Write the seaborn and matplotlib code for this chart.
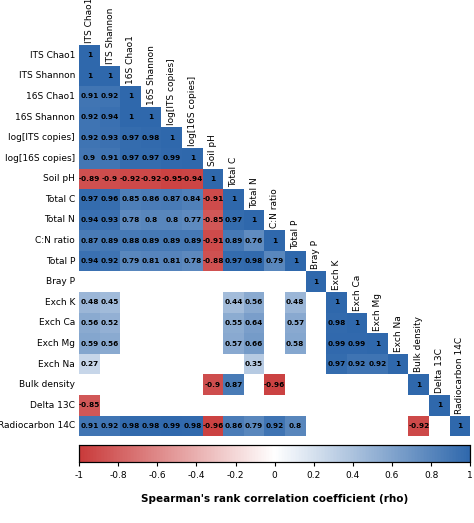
import numpy as np
import pandas as pd
import seaborn as sns
import matplotlib.pyplot as plt
from matplotlib.colors import LinearSegmentedColormap

variables = ["ITS Chao1", "ITS Shannon", "16S Chao1", "16S Shannon", "log[ITS copies]",
             "log[16S copies]", "Soil pH", "Total C", "Total N", "C:N ratio", "Total P",
             "Bray P", "Exch K", "Exch Ca", "Exch Mg", "Exch Na", "Bulk density",
             "Delta 13C", "Radiocarbon 14C"]

# lower-triangle rows (columns 0..i), None = not significant
rows = [
    [1],
    [1, 1],
    [0.91, 0.92, 1],
    [0.92, 0.94, 1, 1],
    [0.92, 0.93, 0.97, 0.98, 1],
    [0.9, 0.91, 0.97, 0.97, 0.99, 1],
    [-0.89, -0.9, -0.92, -0.92, -0.95, -0.94, 1],
    [0.97, 0.96, 0.85, 0.86, 0.87, 0.84, -0.91, 1],
    [0.94, 0.93, 0.78, 0.8, 0.8, 0.77, -0.85, 0.97, 1],
    [0.87, 0.89, 0.88, 0.89, 0.89, 0.89, -0.91, 0.89, 0.76, 1],
    [0.94, 0.92, 0.79, 0.81, 0.81, 0.78, -0.88, 0.97, 0.98, 0.79, 1],
    [None] * 11 + [1],
    [0.48, 0.45, None, None, None, None, None, 0.44, 0.56, None, 0.48, None, 1],
    [0.56, 0.52, None, None, None, None, None, 0.55, 0.64, None, 0.57, None, 0.98, 1],
    [0.59, 0.56, None, None, None, None, None, 0.57, 0.66, None, 0.58, None, 0.99, 0.99, 1],
    [0.27, None, None, None, None, None, None, None, 0.35, None, None, None, 0.97, 0.92, 0.92, 1],
    [None] * 6 + [-0.9, 0.87, None, -0.96] + [None] * 6 + [1],
    [-0.85] + [None] * 16 + [1],
    [0.91, 0.92, 0.98, 0.98, 0.99, 0.98, -0.96, 0.86, 0.79, 0.92, 0.8] + [None] * 5 + [-0.92, None, 1],
]

n = len(variables)
mat = np.full((n, n), np.nan)
for i, r in enumerate(rows):
    for j, v in enumerate(r):
        if v is not None:
            mat[i, j] = v
df = pd.DataFrame(mat, index=variables, columns=variables)
annot = df.map(lambda v: "" if np.isnan(v) else f"{v:g}")

cmap = LinearSegmentedColormap.from_list("rb", ["#c93a3a", "#ffffff", "#2f68ac"])

fig = plt.figure(figsize=(4.74, 5.23), dpi=100)
ax = fig.add_axes([0.167, 0.166, 0.825, 0.748])
cax = fig.add_axes([0.167, 0.117, 0.825, 0.033])

sns.heatmap(df, ax=ax, cmap=cmap, vmin=-1, vmax=1, annot=annot, fmt="",
            annot_kws={"size": 5.3, "weight": "bold", "color": "black"},
            cbar=True, cbar_ax=cax,
            cbar_kws={"orientation": "horizontal", "ticks": np.round(np.arange(-1, 1.01, 0.2), 1)})

ax.set_xticks([])
ax.set_yticks(np.arange(n) + 0.5)
ax.set_yticklabels(variables, fontsize=6.5, rotation=0)
ax.tick_params(axis="y", length=0, pad=3)
ax.set_xlabel("")
ax.set_ylabel("")
for i, name in enumerate(variables):
    ax.text(i + 0.5, i - 0.1, name, rotation=90, ha="center", va="bottom", fontsize=6.5, clip_on=False)

cax.set_xticklabels(["-1", "-0.8", "-0.6", "-0.4", "-0.2", "0", "0.2", "0.4", "0.6", "0.8", "1"])
cax.tick_params(labelsize=6.5, length=3)
for s in cax.spines.values():
    s.set_visible(True)
    s.set_linewidth(0.8)
fig.text(0.58, 0.04, "Spearman's rank correlation coefficient (rho)", ha="center",
         fontsize=7.5, weight="bold")

fig.savefig("out.png", dpi=100)
